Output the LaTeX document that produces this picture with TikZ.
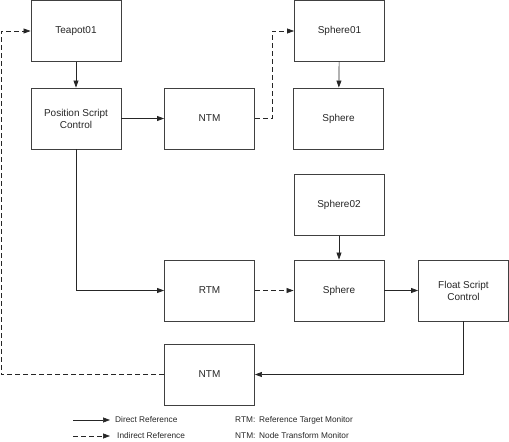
\documentclass[tikz,border=0pt]{standalone}
\usepackage{fontspec}
\setmainfont{Liberation Sans}
\usetikzlibrary{arrows.meta}

\begin{document}
\begin{tikzpicture}[
    x=1pt, y=-1pt,
    block/.style={rectangle, draw=black!75, line width=0.9pt, minimum width=90pt, minimum height=61pt, align=center, font=\fontsize{10}{12}\selectfont, text=black!85},
    arrow/.style={-{Triangle[length=7pt,width=5pt]}, line width=0.7pt, black!85},
    indirect/.style={arrow, dash pattern=on 5pt off 3pt},
    label/.style={font=\fontsize{8.3}{9}\selectfont, text=black!85, anchor=west, inner sep=0pt}
]
\useasboundingbox (0,0) rectangle (509,442);

% === Blocks ===
\node[block] (teapot) at (76, 31) {Teapot01};
\node[block] (poscript) at (76, 118.5) {Position Script\\Control};
\node[block] (ntm_top) at (209.5, 118.5) {NTM};
\node[block] (sphere01) at (339.5, 31) {Sphere01};
\node[block] (sphere_top) at (338.5, 118.5) {Sphere};
\node[block] (sphere02) at (339, 205) {Sphere02};
\node[block] (rtm) at (209.5, 290.5) {RTM};
\node[block] (sphere_mid) at (339, 290.5) {Sphere};
\node[block] (floatscript) at (463.5, 290.5) {Float Script\\Control};
\node[block] (ntm_bot) at (209.5, 374.5) {NTM};

% === Connectors ===
\draw[arrow] (teapot) -- (poscript);
\draw[arrow] (poscript) -- (ntm_top);
\draw[indirect] (ntm_top.east) -- ++(17,0) |- (sphere01.west);
\draw[arrow] (sphere01) -- (sphere_top);
\draw[arrow] (poscript.south) |- (rtm.west);
\draw[indirect] (rtm) -- (sphere_mid);
\draw[arrow] (sphere02) -- (sphere_mid);
\draw[arrow] (sphere_mid) -- (floatscript);
\draw[arrow] (floatscript.south) |- (ntm_bot.east);
\draw[indirect] (ntm_bot.west) -- (1,374.5) |- (teapot.west);

% === Legend ===
\coordinate (direct_a) at (73, 420);
\coordinate (direct_b) at (110, 420);
\coordinate (indirect_a) at (73, 436);
\coordinate (indirect_b) at (110, 436);
\draw[arrow] (direct_a) -- (direct_b);
\draw[indirect] (indirect_a) -- (indirect_b);
\node[label] (direct_txt) at (115, 420) {Direct Reference};
\node[label] (indirect_txt) at (117, 436) {Indirect Reference};
\node[label] (rtm_key) at (235, 420) {RTM:};
\node[label] (rtm_txt) at (259, 420) {Reference Target Monitor};
\node[label] (ntm_key) at (235, 436) {NTM:};
\node[label] (ntm_txt) at (259, 436) {Node Transform Monitor};

\end{tikzpicture}
\end{document}
